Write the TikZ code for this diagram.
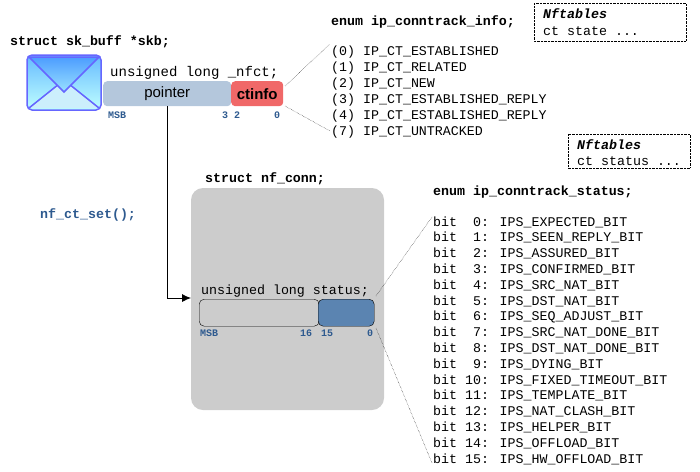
\documentclass[tikz,border=0pt]{standalone}
\usepackage{fontspec}
\usetikzlibrary{arrows.meta}
\setmainfont{Liberation Sans}
\newfontfamily\mono{Liberation Mono}
\begin{document}
\begin{tikzpicture}[x=1pt,y=-1pt,
  mt/.style={font=\mono\fontsize{13.3}{15}\selectfont,anchor=base west,inner sep=0},
  bt/.style={font=\mono\bfseries\fontsize{13.3}{15}\selectfont,anchor=base west,inner sep=0},
  lbl/.style={font=\mono\bfseries\fontsize{10}{11}\selectfont,text=lb,anchor=base,inner sep=0},
  dl/.style={densely dotted,thin},
  nb/.style={draw,densely dotted,thin}]
\useasboundingbox (0,0) rectangle (700,471);
\definecolor{ptr}{HTML}{B4C7DC}\definecolor{cti}{HTML}{F06868}
\definecolor{stb}{HTML}{5B84B1}\definecolor{lb}{HTML}{2E5A8F}
% envelope
\node[bt] (t1) at (10,45) {struct sk\_buff *skb;};
\shade[top color=blue!45!cyan!60,bottom color=cyan!25,draw=blue!60,line width=1.5,rounded corners=5] (27,55) rectangle (101,110);
\draw[blue!60,line width=1.5,fill=cyan!20] (29,108) -- (64,80) -- (99,108);
\shade[draw=blue!60,line width=1.5,top color=blue!55!cyan!70,bottom color=blue!30!cyan!40] (29,57) -- (64,92) -- (99,57) -- cycle;
\node[mt,font=\mono\fontsize{14}{15}\selectfont] (nfct) at (110,76) {unsigned long \_nfct;};
\node[fill=ptr,rounded corners=4,minimum width=128,minimum height=25,inner sep=0,anchor=north west,font=\fontsize{15}{16}\selectfont] (ptr) at (103,81) {pointer};
\node[fill=cti,rounded corners=4,minimum width=52,minimum height=25,inner sep=0,anchor=north west,font=\bfseries\fontsize{15}{16}\selectfont] (cti) at (231,81) {ctinfo};
\node[lbl] (m1) at (117,118) {MSB};
\node[lbl] (n3) at (225,118) {3};
\node[lbl] (n2) at (237,118) {2};
\node[lbl] (n0) at (277,118) {0};
% info enum
\node[bt] (ei) at (331,25) {enum ip\_conntrack\_info;};
\foreach \t [count=\i] in {(0) IP\_CT\_ESTABLISHED,(1) IP\_CT\_RELATED,(2) IP\_CT\_NEW,(3) IP\_CT\_ESTABLISHED\_REPLY,(4) IP\_CT\_ESTABLISHED\_REPLY,(7) IP\_CT\_UNTRACKED}
  \node[mt] (i\i) at (331,39+\i*16) {\t};
\coordinate (ca) at (285,86); \coordinate (cb) at (285,106);
\coordinate (ia) at (330,44); \coordinate (ib) at (330,131);
\draw[dl] (ca) -- (ia); \draw[dl] (cb) -- (ib);
% nftables boxes
\draw[nb] (534,3) rectangle (686,41);
\node[mt,font=\mono\bfseries\itshape\fontsize{13.3}{15}\selectfont] (nf1) at (543,18) {Nftables};
\node[mt] (nf1b) at (543,35) {ct state ...};
\draw[nb] (568,134) rectangle (690,168);
\node[mt,font=\mono\bfseries\itshape\fontsize{13.3}{15}\selectfont] (nf2) at (577,149) {Nftables};
\node[mt] (nf2b) at (577,165) {ct status ...};
% nf_conn
\node[bt,text=lb] (set) at (40,218) {nf\_ct\_set();};
\node[bt] (sc) at (205,182) {struct nf\_conn;};
\fill[gray!40,rounded corners=12] (191,188) rectangle (384,410);
\node[mt] (st) at (201,294) {unsigned long status;};
\node[draw,fill=gray!40,rounded corners=5,minimum width=120,minimum height=27,inner sep=0,anchor=north west] (s1) at (199,299) {};
\node[draw,fill=stb,rounded corners=5,minimum width=56,minimum height=27,inner sep=0,anchor=north west] (s2) at (318,299) {};
\node[lbl] (m2) at (209,336) {MSB};
\node[lbl] (n16) at (306,336) {16};
\node[lbl] (n15) at (327,336) {15};
\node[lbl] (n00) at (370,336) {0};
\coordinate (bend) at (167,298);
\coordinate (tip) at (191,298);
\draw[black,line width=0.8,-{Latex[length=9pt,width=8pt]}] (ptr.south -| bend) -- (bend) -- (tip);
% status enum
\node[bt] (es) at (433,195) {enum ip\_conntrack\_status;};
\foreach \t [count=\i from 0] in {IPS\_EXPECTED\_BIT,IPS\_SEEN\_REPLY\_BIT,IPS\_ASSURED\_BIT,IPS\_CONFIRMED\_BIT,IPS\_SRC\_NAT\_BIT,IPS\_DST\_NAT\_BIT,IPS\_SEQ\_ADJUST\_BIT,IPS\_SRC\_NAT\_DONE\_BIT,IPS\_DST\_NAT\_DONE\_BIT,IPS\_DYING\_BIT,IPS\_FIXED\_TIMEOUT\_BIT,IPS\_TEMPLATE\_BIT,IPS\_NAT\_CLASH\_BIT,IPS\_HELPER\_BIT,IPS\_OFFLOAD\_BIT,IPS\_HW\_OFFLOAD\_BIT}
  \node[mt] (b\i) at (433,226+\i*15.8) {bit \ifnum\i<10 \ \fi\i: \t};
\coordinate (sa) at (376,296); \coordinate (sb) at (376,328);
\coordinate (ta) at (432,217); \coordinate (tb) at (432,463);
\draw[dl] (sa) -- (ta); \draw[dl] (sb) -- (tb);
\end{tikzpicture}
\end{document}
